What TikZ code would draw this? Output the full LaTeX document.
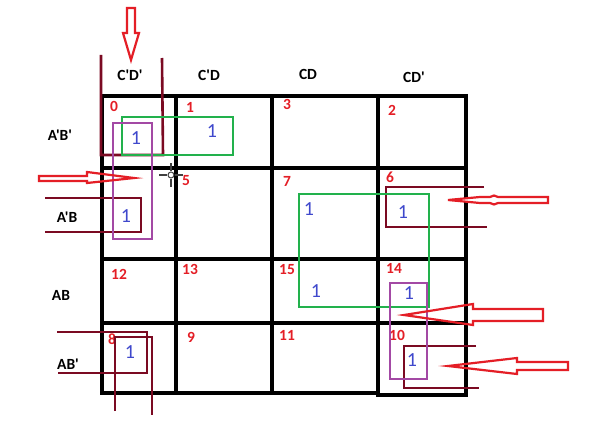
\documentclass[tikz,border=0pt]{standalone}
\usepackage{fontspec}
\setmainfont{Carlito}
\newfontfamily\carl{Carlito}
\definecolor{gridk}{HTML}{000000}
\definecolor{mar}{HTML}{7B0A22}
\definecolor{pur}{HTML}{A349A4}
\definecolor{grn}{HTML}{22B14C}
\definecolor{arw}{HTML}{E41E26}
\definecolor{blu}{HTML}{3F48CC}
\tikzset{
  gridthick/.style={draw=gridk,line width=4.6pt},
  gridthin/.style={draw=gridk,line width=3.4pt},
  maroon/.style={draw=mar,line width=2.6pt},
  loopp/.style={draw=pur,line width=2.8pt},
  loopg/.style={draw=grn,line width=2.8pt},
  redarrow/.style={draw=arw,line width=2.2pt,fill=white,line join=miter},
  lab/.style={font=\carl\fontsize{15.5}{15.5}\selectfont\bfseries,text=black,inner sep=0pt},
  num/.style={font=\carl\fontsize{15.5}{15.5}\selectfont\bfseries,text=arw,inner sep=0pt},
  one/.style={font=\carl\fontsize{20}{20}\selectfont,text=blu,inner sep=0pt},
}
\begin{document}
\begin{tikzpicture}[x=1pt,y=-1pt]
\useasboundingbox[fill=white] (0,0) rectangle (600,444);
% grid
\draw[gridthin] (102,259) -- (466,259);
\draw[gridthin] (102,323) -- (466,323);
\draw[gridthick] (102,168) -- (466,168);
\draw[gridthick] (176,96) -- (176,393);
\draw[gridthick] (272,96) -- (272,393);
\draw[gridthick] (378,96) -- (378,395);
\draw[gridthick] (100,96) -- (468,96);
\draw[gridthick] (100,393) -- (378,393);
\draw[gridthick] (376,395) -- (468,395);
\draw[gridthick] (102,94) -- (102,395);
\draw[gridthick] (466,94) -- (466,397);
% column / row labels
\node[lab] (c1) at (130,75) {C'D'};
\node[lab] (c2) at (209,75) {C'D};
\node[lab] (c3) at (308,74) {CD};
\node[lab] (c4) at (414,77) {CD'};
\node[lab] (r1) at (60,135) {A'B'};
\node[lab] (r2) at (67,217) {A'B};
\node[lab] (r3) at (61,295) {AB};
\node[lab] (r4) at (68,364) {AB'};
% cell numbers
\node[num] (n0) at (114,106) {0};
\node[num] (n1) at (190,107) {1};
\node[num] (n3) at (287,104) {3};
\node[num] (n2) at (392,110) {2};
\node[num] (n5) at (186,181) {5};
\node[num] (n7) at (287,181) {7};
\node[num] (n6) at (390,177) {6};
\node[num] (n12) at (119,274) {12};
\node[num] (n13) at (190,269) {13};
\node[num] (n15) at (287,270) {15};
\node[num] (n14) at (394,268) {14};
\node[num] (n8) at (112,339) {8};
\node[num] (n9) at (191,337) {9};
\node[num] (n11) at (287,335) {11};
\node[num] (n10) at (397,335) {10};
% ones
\node[one] (a) at (136,138) {1};
\node[one] (b) at (212,131) {1};
\node[one] (c) at (126,216) {1};
\node[one] (d) at (130,352) {1};
\node[one] (e) at (309,209) {1};
\node[one] (f) at (316,291) {1};
\node[one] (g) at (403,212) {1};
\node[one] (h) at (409,293) {1};
\node[one] (i) at (412,360) {1};
% maroon groups
\draw[maroon] (101,55) -- (101,155) -- (163,155) -- (162,58);
\draw[maroon] (45,198) -- (141,198) -- (141,232) -- (45,232);
\draw[maroon] (484,187) -- (386,187) -- (386,227) -- (487,227);
\draw[maroon] (57,332) -- (147,332) -- (147,373) -- (58,373);
\draw[maroon] (115,411) -- (115,337) -- (152,337) -- (152,415);
\draw[maroon] (476,346) -- (404,346) -- (404,388) -- (479,388);
% green and purple loops
\draw[loopg] (122,117) rectangle (233,155);
\draw[loopg] (299,194) rectangle (429,307);
\draw[loopp] (113,123) rectangle (152,239);
\draw[loopp] (390,283) rectangle (427,379);
% red arrows
\draw[redarrow] (127,8) -- (135,8) -- (135,33) -- (139,33) -- (131,60) -- (123,33) -- (127,33) -- cycle;
\draw[redarrow,fill=none] (39,176) -- (87,176) -- (87,172) -- (134,178) -- (87,183) -- (87,181) -- (39,181) -- cycle;
\draw[redarrow] (548,197) -- (498,197) -- (494,195.5) -- (490,197) -- (480,197) -- (448,200) -- (480,203) -- (490,203) -- (494,204.5) -- (498,203) -- (548,203) -- cycle;
\draw[redarrow,fill=none] (404,315) -- (473,304) -- (473,309) -- (543,309) -- (543,321) -- (473,321) -- (473,325) -- cycle;
\draw[redarrow,fill=none] (448,366) -- (517,358) -- (517,362) -- (568,362) -- (568,370) -- (517,370) -- (517,374) -- cycle;
% cursor
\draw[black!75,line width=1.6pt] (171,163) -- (171,171) (171,179) -- (171,187) (159,175) -- (167,175) (175,175) -- (183,175);
\draw[black!75,line width=1pt] (171,175) circle (3);
\end{tikzpicture}
\end{document}
